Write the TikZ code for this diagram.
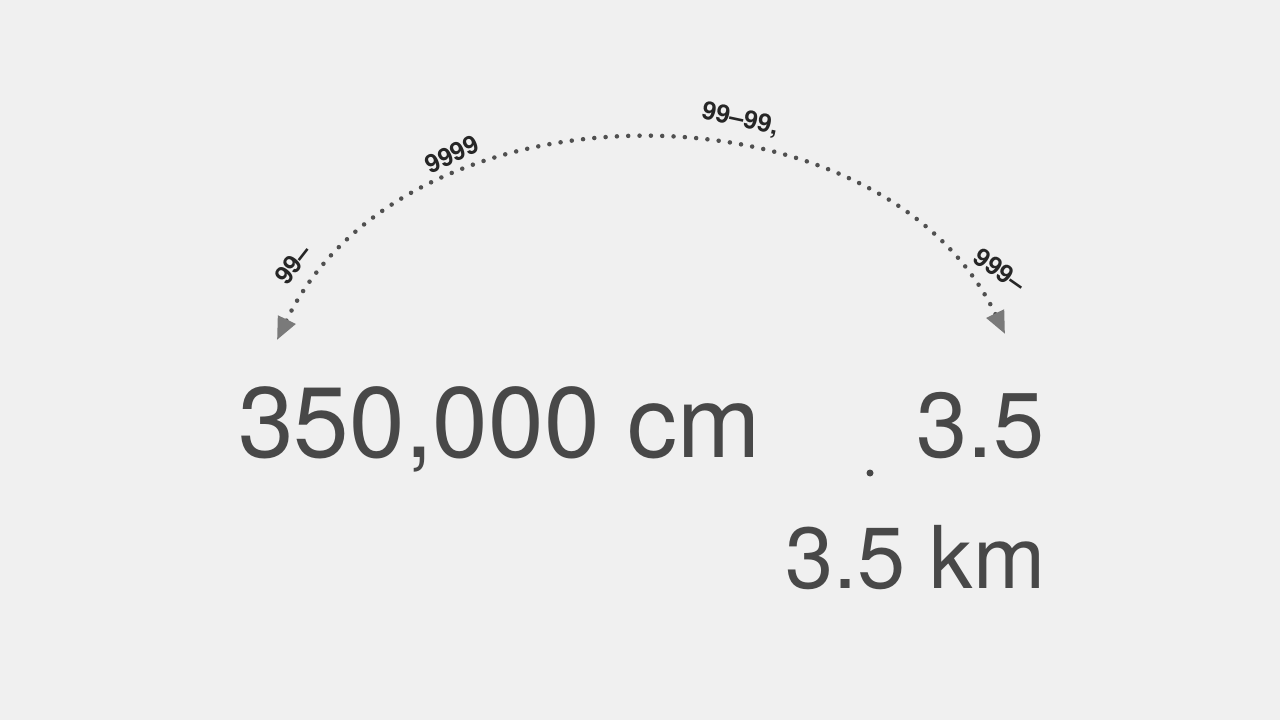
\documentclass[tikz,border=0pt]{standalone}
\usepackage{fontspec}
\setmainfont{TeX Gyre Heros}
\usetikzlibrary{arrows.meta}
\definecolor{bg}{HTML}{F0F0F0}
\definecolor{ink}{HTML}{484848}
\definecolor{dotc}{HTML}{505050}
\definecolor{tipc}{HTML}{7A7A7A}
\tikzset{
  big/.style={font=\fontsize{75}{75}\selectfont, text=ink, inner sep=0pt, anchor=base west},
  bigr/.style={font=\fontsize{69}{69}\selectfont, text=ink, inner sep=0pt, anchor=base west},
  mid/.style={font=\fontsize{65}{65}\selectfont, text=ink, inner sep=0pt, anchor=base west},
  squig/.style={font=\bfseries\fontsize{19}{19}\selectfont, text=black!85, inner sep=0pt},
  dotarc/.style={draw=dotc, line width=3.4pt, line cap=round, dash pattern=on 0pt off 8.5pt,
     {Triangle[length=17pt,width=14pt,color=tipc]}-{Triangle[length=17pt,width=14pt,color=tipc]}}
}
\begin{document}
\begin{tikzpicture}[x=0.75pt,y=-0.75pt]
\useasboundingbox (0,0) rectangle (1280,720);
\fill[bg] (0,0) rectangle (1280,720);
\coordinate (L) at (277,340);
\coordinate (R) at (1005,334);
\draw[dotarc] (L) .. controls (405,75) and (880,75) .. (R);
\node[big] (cm) at (238,457) {350,000 cm};
\node[bigr] (n35) at (916,457) {3.5};
\node[mid] (km) at (785,588) {3.5 km};
\fill[ink] (870,473) circle (3.5);
\node[squig, rotate=52] (s1) at (293,264) {99–};
\node[squig, rotate=25] (s2) at (452,154) {9999};
\node[squig, rotate=-12] (s3) at (740,120) {99–99,};
\node[squig, rotate=-35] (s4) at (1000,270) {999–};
\end{tikzpicture}
\end{document}
